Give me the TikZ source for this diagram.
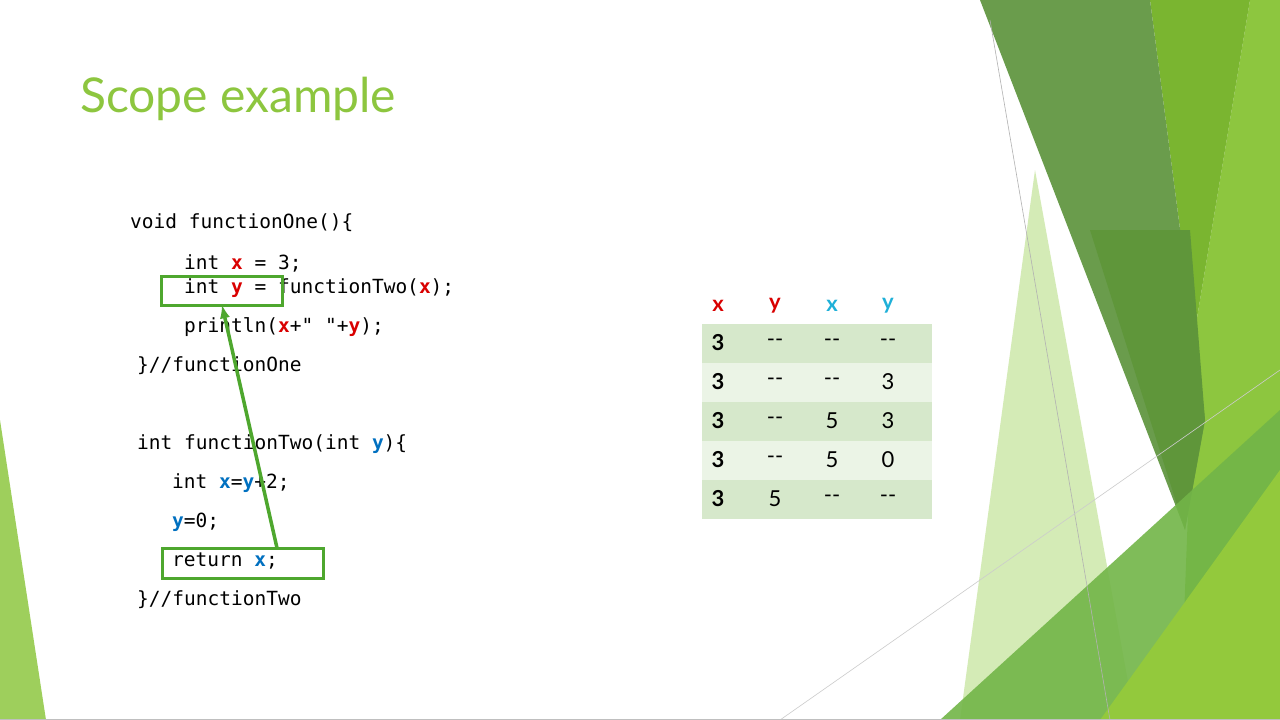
\documentclass[tikz,border=0pt]{standalone}
\usepackage{fontspec}
\setmainfont{Lato}
\setmonofont{DejaVu Sans Mono}
\usetikzlibrary{positioning}
\definecolor{titlegreen}{HTML}{8DC63F}
\definecolor{boxgreen}{HTML}{4EA72E}
\definecolor{varred}{HTML}{D90000}
\definecolor{varblue}{HTML}{0070C0}
\definecolor{varcyan}{HTML}{1FB0D8}
\definecolor{rowdark}{HTML}{D6E8CB}
\definecolor{rowlight}{HTML}{EBF4E6}
\definecolor{olivegreen}{HTML}{6A9C4C}
\definecolor{deepgreen}{HTML}{5F963A}
\definecolor{midgreen}{HTML}{7AB530}
\definecolor{palegreen}{HTML}{D4EBB6}
\definecolor{lowgreen}{HTML}{72B548}
\newcommand{\rx}{\textcolor{varred}{\textbf{x}}}
\newcommand{\ry}{\textcolor{varred}{\textbf{y}}}
\newcommand{\bx}{\textcolor{varblue}{\textbf{x}}}
\newcommand{\by}{\textcolor{varblue}{\textbf{y}}}
\tikzset{
  code/.style={anchor=west,inner sep=0pt,font=\ttfamily\fontsize{19.5}{19.5}\selectfont},
  cell/.style={inner sep=0pt,font=\fontsize{22}{22}\selectfont},
  markbox/.style={draw=boxgreen,line width=3pt},
}
\begin{document}
\begin{tikzpicture}[x=1pt,y=-1pt,>=latex]
        \useasboundingbox (0,0) rectangle (1280,720);
        % background decoration
        \fill[white] (0,0) rectangle (1280,720);
        \fill[color=titlegreen!85] (0,420) -- (46,720) -- (0,720) -- cycle;
        \fill[palegreen] (1035,170) -- (1135,720) -- (960,720) -- cycle;
        \fill[titlegreen] (1250,0) -- (1280,0) -- (1280,720) -- (1180,720) -- (1195,330) -- cycle;
        \fill[midgreen] (1150,0) -- (1250,0) -- (1195,330) -- (1205,420) -- cycle;
        \fill[olivegreen] (980,0) -- (1150,0) -- (1205,420) -- (1185,530) -- cycle;
        \fill[deepgreen] (1090,230) -- (1190,230) -- (1205,420) -- (1185,530) -- cycle;
        \fill[lowgreen,opacity=0.9] (940,720) -- (1280,410) -- (1280,720) -- cycle;
        \fill[color=titlegreen!95!yellow] (1100,720) -- (1280,470) -- (1280,720) -- cycle;
        \draw[gray!60,line width=0.6pt] (990,20) -- (1110,720);
        \draw[gray!40,line width=0.6pt] (780,720) -- (1280,370);
        \draw[gray!50,line width=0.8pt] (0,719) -- (1280,719);

        % title
        \node[anchor=west,inner sep=0pt,text=titlegreen,font=\fontsize{48}{48}\selectfont] (title) at (80,99) {Scope example};

        % code of functionOne
        \node[code] (one) at (130,223) {void functionOne()\{};
        \node[code] (decx) at (184,263) {int \rx{} = 3;};
        \node[code] (decy) at (184,288) {int \ry{} = functionTwo(\rx);};
        \node[code] (print) at (184,327) {println(\rx+" "+\ry);};
        \node[code] (endone) at (137,366) {\}//functionOne};

        % code of functionTwo
        \node[code] (two) at (137,444) {int functionTwo(int \by)\{};
        \node[code] (locx) at (172,483) {int \bx=\by+2;};
        \node[code] (sety) at (172,522) {\by=0;};
        \node[code] (ret) at (172,561) {return \bx;};
        \node[code] (endtwo) at (137,600) {\}//functionTwo};

        % boxes and the return arrow
        \node[markbox,minimum width=121pt,minimum height=29pt] (callbox) at (221.5,290.5) {};
        \node[markbox,minimum width=161pt,minimum height=30pt] (retbox) at (242.5,563) {};
        \coordinate (retfrom) at (277,548);
        \coordinate (callto) at (222,305);
        \draw[boxgreen,line width=3.5pt,->] (retfrom) -- (callto);

        % table of values
        \foreach \r/\c in {0/rowdark,1/rowlight,2/rowdark,3/rowlight,4/rowdark}
                \fill[\c] (702,324+39*\r) rectangle (932,363+39*\r);
        \foreach \x/\t in {718/\textcolor{varred}{x},775/\textcolor{varred}{y},832/\textcolor{varcyan}{x},888/\textcolor{varcyan}{y}}
                \node[cell] at (\x,306) {\textbf{\t}};
        \foreach \r/\a/\b/\c/\d in {0/3/{-}{-}/{-}{-}/{-}{-},1/3/{-}{-}/{-}{-}/3,2/3/{-}{-}/5/3,3/3/{-}{-}/5/0,4/3/5/{-}{-}/{-}{-}} {
                \node[cell] at (718,343+39*\r) {\textbf{\a}};
                \node[cell] at (775,343+39*\r) {\b};
                \node[cell] at (832,343+39*\r) {\c};
                \node[cell] at (888,343+39*\r) {\d};
        }
\end{tikzpicture}
\end{document}
